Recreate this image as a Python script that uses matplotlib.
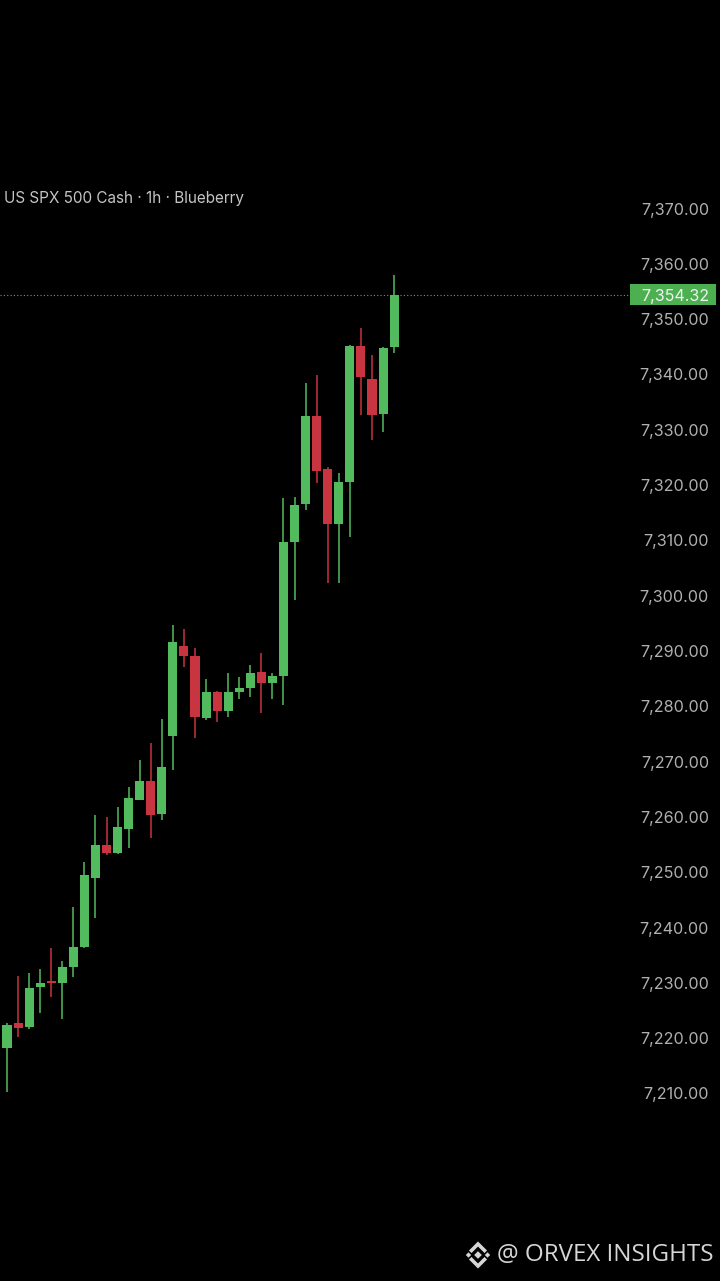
import matplotlib
matplotlib.use("Agg")
import matplotlib.pyplot as plt
from matplotlib.patches import Rectangle, Polygon
import matplotlib.transforms as mtransforms

# ---- data (1h candles, US SPX 500 Cash) ----
opens = [7218.1, 7222.6, 7221.9, 7229.2, 7230.2, 7229.9, 7232.8, 7236.4, 7248.9, 7254.8,
         7253.4, 7257.7, 7263.0, 7266.4, 7260.4, 7274.5, 7290.8, 7289.0, 7277.8, 7282.5,
         7279.1, 7282.5, 7283.2, 7286.1, 7284.1, 7285.4, 7309.6, 7316.5, 7332.4, 7322.8,
         7312.9, 7320.5, 7345.0, 7339.1, 7332.8, 7344.9]
highs = [7222.7, 7231.1, 7231.7, 7232.4, 7236.2, 7233.9, 7243.6, 7251.8, 7260.3, 7259.9,
         7261.7, 7265.3, 7270.2, 7273.3, 7277.6, 7294.6, 7293.9, 7290.4, 7284.8, 7282.6,
         7285.9, 7285.2, 7287.4, 7289.5, 7285.9, 7317.6, 7317.7, 7338.4, 7339.8, 7323.2,
         7322.1, 7345.2, 7348.3, 7343.4, 7344.9, 7357.9]
lows = [7210.2, 7220.1, 7221.5, 7224.5, 7227.3, 7223.4, 7231.0, 7236.2, 7241.6, 7253.0,
        7253.2, 7254.3, 7262.9, 7256.1, 7259.4, 7268.4, 7287.0, 7274.2, 7277.4, 7277.1,
        7278.0, 7281.2, 7281.6, 7278.7, 7281.2, 7280.1, 7299.1, 7315.4, 7320.3, 7302.2,
        7302.2, 7310.5, 7332.6, 7328.1, 7329.5, 7343.8]
closes = [7222.3, 7221.7, 7229.0, 7229.9, 7229.8, 7232.8, 7236.4, 7249.4, 7254.8, 7253.4,
          7258.1, 7263.3, 7266.4, 7260.3, 7268.9, 7291.5, 7289.0, 7278.0, 7282.5, 7279.1,
          7282.5, 7283.2, 7285.9, 7284.1, 7285.4, 7309.6, 7316.3, 7332.4, 7322.4, 7312.9,
          7320.5, 7345.0, 7339.4, 7332.6, 7344.7, 7354.32]
last_price = 7354.32
price_ticks = [7210, 7220, 7230, 7240, 7250, 7260, 7270, 7280, 7290, 7300,
               7310, 7320, 7330, 7340, 7350, 7360, 7370]
title = "US SPX 500 Cash · 1h · Blueberry"
watermark = "@ ORVEX INSIGHTS"

# ---- style ----
W, H = 720, 1281
GREEN = "#52bb5e"
RED = "#c8343f"
TAG_GREEN = "#4cb050"
LABEL = "#b0b0b0"
BG = "#000000"

fig = plt.figure(figsize=(W / 100, H / 100), dpi=100, facecolor=BG)
ax = fig.add_axes([0, 0, 1, 1])
ax.set_facecolor(BG)
for s in ax.spines.values():
    s.set_visible(False)
ax.set_xticks([])
ax.set_yticks([])

# pixel mapping: candle i at x = 7 + 11.06*i ; 7370 at y=208, 7210 at y=1093
step = 11.06
x0 = 7.0
ax.set_xlim(-x0 / step, (W - x0) / step)
ppu = (1093 - 208) / 160.0
ax.set_ylim(7370 - (H - 208) / ppu, 7370 + 208 / ppu)

idx = list(range(len(opens)))
colors = [GREEN if c >= o else RED for o, c in zip(opens, closes)]
ax.vlines(idx, lows, highs, colors=colors, linewidth=1.1, zorder=2)
bottoms = [min(o, c) for o, c in zip(opens, closes)]
heights = [max(abs(c - o), 0.35) for o, c in zip(opens, closes)]
ax.bar(idx, heights, bottom=bottoms, width=0.82, color=colors, edgecolor="none", zorder=3)

# price axis labels
trans = mtransforms.blended_transform_factory(ax.transAxes, ax.transData)
down = mtransforms.ScaledTranslation(0, -2 / 100, fig.dpi_scale_trans)
for v in price_ticks:
    ax.text(709 / W, v, f"{v:,.2f}", transform=trans + down, ha="right", va="center",
            color=LABEL, fontsize=11.6, family=["Inter", "DejaVu Sans"])

# last price line + tag
ax.axhline(last_price, xmin=0, xmax=628 / W, color="#8a8a8a", linestyle=(0, (1, 2)),
           linewidth=0.8, zorder=1)
tag_h = 21 / ppu
ax.add_patch(Rectangle((630 / W, last_price - tag_h / 2), 86 / W, tag_h, transform=trans,
                       facecolor=TAG_GREEN, edgecolor="none", zorder=4))
ax.text(709 / W, last_price, f"{last_price:,.2f}", transform=trans + down, ha="right",
        va="center", color="#f2f2f2", fontsize=11.6, family=["Inter", "DejaVu Sans"],
        zorder=5)

# title
ax.text(4 / W, 1 - 198 / H, title, transform=ax.transAxes, ha="left", va="center",
        color="#c4c4c4", fontsize=11.0, family=["Inter", "DejaVu Sans"])

# watermark (overlay in pixel coords)
ov = fig.add_axes([0, 0, 1, 1], facecolor="none")
ov.set_xlim(0, W)
ov.set_ylim(H, 0)
ov.axis("off")
wm = "#d6d6d6"
cx, cy = 478, 1255
def diamond(x, y, r):
    return Polygon([(x, y - r), (x + r, y), (x, y + r), (x - r, y)], closed=True,
                   facecolor=wm, edgecolor="none")
ov.add_patch(diamond(cx, cy, 3.8))
ov.add_patch(diamond(cx - 9.5, cy, 2.7))
ov.add_patch(diamond(cx + 9.5, cy, 2.7))
ov.plot([cx - 6.5, cx, cx + 6.5], [cy - 4.5, cy - 11, cy - 4.5], color=wm, linewidth=2.6,
        solid_joinstyle="miter")
ov.plot([cx - 6.5, cx, cx + 6.5], [cy + 4.5, cy + 11, cy + 4.5], color=wm, linewidth=2.6,
        solid_joinstyle="miter")
ov.text(497, 1255, watermark, ha="left", va="center", color=wm, fontsize=17.4,
        family=["Open Sans", "DejaVu Sans"])

fig.savefig("out.png", dpi=100, facecolor=BG)
